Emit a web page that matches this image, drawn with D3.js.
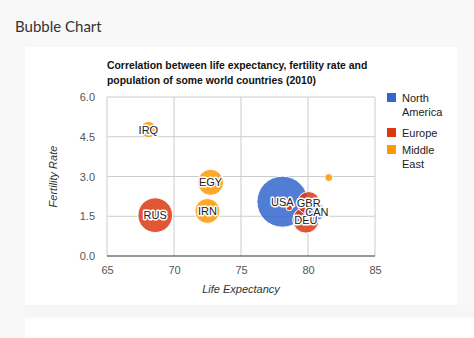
<!DOCTYPE html>
<html>
<head>
<meta charset="utf-8">
<script src="https://cdn.jsdelivr.net/npm/d3@7"></script>
<style>
  body { margin: 0; background: #f8f8f8; }
  svg { display: block; font-family: "Liberation Sans", Arial, sans-serif; }
</style>
</head>
<body>
<div id="chart"></div>
<script>
// data from the picture (2010)
const ids        = ['CAN', 'DEU', 'DNK', 'EGY', 'GBR', 'IRN', 'IRQ', 'ISR', 'RUS', 'USA'];
const lifeExp    = [80.66, 79.84, 78.6, 72.73, 80.05, 72.49, 68.09, 81.55, 68.6, 78.09];
const fertility  = [1.67, 1.36, 1.84, 2.78, 2, 1.7, 4.77, 2.96, 1.54, 2.05];
const regions    = ['North America', 'Europe', 'Europe', 'Middle East', 'Europe', 'Middle East', 'Middle East', 'Middle East', 'Europe', 'North America'];
const population = [33739900, 81902307, 5523095, 79716203, 61801570, 73137148, 31090763, 7485600, 141850000, 307007000];
const hiddenLabels = ['DNK', 'ISR'];

const regionNames = ['North America', 'Europe', 'Middle East'];
const xTicks = [65, 70, 75, 80, 85];
const yTicks = [0, 1.5, 3, 4.5, 6];

const W = 474, H = 338;
const plot = {left: 107, right: 375, top: 97, bottom: 256};

var svg = d3.select('#chart').append('svg')
  .attr('width', W).attr('height', H);

svg.append('rect').attr('width', W).attr('height', H).attr('fill', '#f8f8f8');

// page bits
svg.append('text')
  .attr('x', 15).attr('y', 32)
  .attr('font-family', 'Lato, sans-serif')
  .attr('font-size', 15)
  .attr('fill', '#333')
  .text('Bubble Chart');

svg.append('rect').attr('x', 25).attr('y', 47).attr('width', 432).attr('height', 258).attr('fill', '#fff');
svg.append('rect').attr('x', 25).attr('y', 305).attr('width', 449).attr('height', 12).attr('fill', '#f6f6f6');
svg.append('rect').attr('x', 25).attr('y', 318).attr('width', 449).attr('height', 20).attr('fill', '#fff');

var x = d3.scaleLinear().domain([65, 85]).range([plot.left, plot.right]);
var y = d3.scaleLinear().domain([0, 6]).range([plot.bottom, plot.top]);
var r = d3.scaleSqrt().domain([0, d3.max(population)]).range([0, 25.5]);
var color = d3.scaleOrdinal().domain(regionNames).range(['#3366cc', '#dc3912', '#ff9900']);

// title
svg.append('text')
  .attr('x', plot.left).attr('y', 69)
  .attr('font-size', 10.4).attr('font-weight', 'bold').attr('fill', '#111')
  .selectAll('tspan')
  .data(['Correlation between life expectancy, fertility rate and', 'population of some world countries (2010)'])
  .enter().append('tspan')
  .attr('x', plot.left)
  .attr('dy', (d, i) => i ? 14.5 : 0)
  .text(d => d);

// grid
var grid = svg.append('g');
grid.selectAll('line.vx')
  .data(xTicks).enter().append('line')
  .attr('x1', d => x(d)).attr('x2', d => x(d))
  .attr('y1', plot.top).attr('y2', plot.bottom)
  .attr('stroke', '#ccc');
grid.selectAll('line.hy')
  .data(yTicks).enter().append('line')
  .attr('x1', plot.left).attr('x2', plot.right)
  .attr('y1', d => y(d)).attr('y2', d => y(d))
  .attr('stroke', d => d === 0 ? '#333' : '#ccc');

// axes (labels only)
var xAxis = svg.append('g')
  .attr('transform', `translate(0,${plot.bottom})`)
  .call(d3.axisBottom(x).tickValues(xTicks).tickSize(0).tickPadding(10));
var yAxis = svg.append('g')
  .attr('transform', `translate(${plot.left},0)`)
  .call(d3.axisLeft(y).tickValues(yTicks).tickFormat(d3.format('.1f')).tickSize(0).tickPadding(12));
[xAxis, yAxis].forEach(a => {
  a.select('.domain').remove();
  a.selectAll('text').attr('font-size', 11).attr('fill', '#555')
    .attr('font-family', '"Liberation Sans", Arial, sans-serif');
});

svg.append('text')
  .attr('x', (plot.left + plot.right) / 2).attr('y', 293)
  .attr('text-anchor', 'middle').attr('font-size', 11).attr('font-style', 'italic').attr('fill', '#333')
  .text('Life Expectancy');
svg.append('text')
  .attr('transform', `translate(57,${(plot.top + plot.bottom) / 2}) rotate(-90)`)
  .attr('text-anchor', 'middle').attr('font-size', 11).attr('font-style', 'italic').attr('fill', '#333')
  .text('Fertility Rate');

// bubbles, biggest first
var rows = ids.map((id, i) => ({id: id, x: lifeExp[i], y: fertility[i], region: regions[i], pop: population[i]}))
  .sort((a, b) => b.pop - a.pop);

svg.append('g').selectAll('circle')
  .data(rows).enter().append('circle')
  .attr('cx', d => x(d.x))
  .attr('cy', d => y(d.y))
  .attr('r', d => r(d.pop))
  .attr('fill', d => color(d.region))
  .attr('fill-opacity', 0.85)
  .attr('stroke', '#fff')
  .attr('stroke-width', 1);

svg.append('g').selectAll('text')
  .data(rows.filter(d => hiddenLabels.indexOf(d.id) < 0))
  .enter().append('text')
  .attr('x', d => x(d.x))
  .attr('y', d => y(d.y))
  .attr('dy', '0.36em')
  .attr('text-anchor', 'middle')
  .attr('font-size', 11)
  .attr('fill', '#222')
  .attr('stroke', '#fff')
  .attr('stroke-width', 3)
  .attr('paint-order', 'stroke')
  .attr('stroke-linejoin', 'round')
  .text(d => d.id);

// legend
var legendRows = [['North', 'America'], ['Europe'], ['Middle', 'East']];
var legendY = [93, 128, 145];
var legend = svg.append('g').selectAll('g')
  .data(regionNames).enter().append('g')
  .attr('transform', (d, i) => `translate(387,${legendY[i]})`);
legend.append('rect')
  .attr('width', 9).attr('height', 9)
  .attr('fill', d => color(d));
legend.append('text')
  .attr('font-size', 11).attr('fill', '#222')
  .selectAll('tspan')
  .data((d, i) => legendRows[i])
  .enter().append('tspan')
  .attr('x', 15)
  .attr('y', (d, i) => 9 + i * 14)
  .text(d => d);
</script>
</body>
</html>
